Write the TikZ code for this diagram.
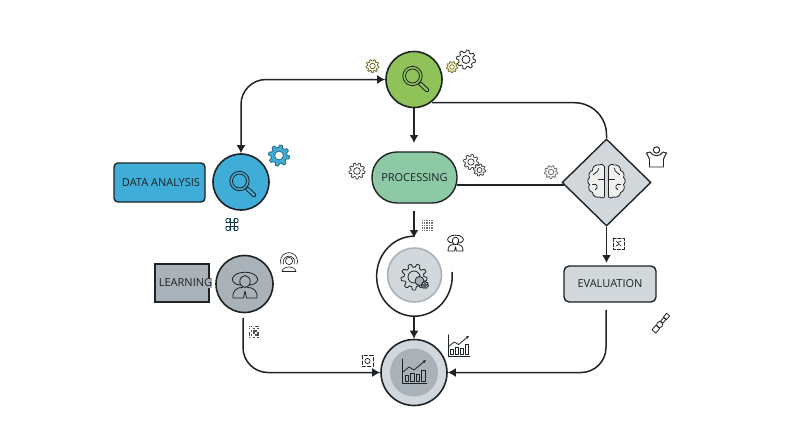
\documentclass[tikz,border=0pt]{standalone}
\usepackage{fontspec}
\setmainfont{Open Sans}
\usetikzlibrary{shapes.geometric,arrows.meta}
\definecolor{ink}{HTML}{1E2326}
\definecolor{cgreen}{HTML}{8FC35A}
\definecolor{cblue}{HTML}{3FADD8}
\definecolor{cmint}{HTML}{8DC9A4}
\definecolor{cgrey}{HTML}{A9B2B9}
\definecolor{clight}{HTML}{D2D7DB}
\definecolor{lobefill}{HTML}{EFF0EE}
\tikzset{
  conn/.style={draw=ink,line width=1.5pt,-{Latex[length=8pt,width=9pt]}},
  line/.style={draw=ink,line width=1.5pt},
  disc/.style={circle,draw=ink,line width=1.6pt,inner sep=0pt},
  boxlabel/.style={font=\fontsize{11}{13}\selectfont,text=ink,inner sep=0pt},
  icon/.style={draw=ink,line width=.8pt,line join=round,line cap=round},
  thin icon/.style={draw=ink!80,line width=.55pt,line cap=round}
}
\newcommand\gearicon[6]{%
  \draw[draw=#5,fill=#6,line width=.8pt,line join=round,shift={(#1,#2)}]
    plot[samples={12*#4+1},domain=0:360,variable=\t]
    ({#3*(0.76+0.24*min(1,max(0,.5+1.2*sin(#4*\t))))*cos(\t)},
     {#3*(0.76+0.24*min(1,max(0,.5+1.2*sin(#4*\t))))*sin(\t)}) -- cycle;
  \draw[draw=#5,fill=white,line width=.8pt] (#1,#2) circle ({#3*.42});
}
\newcommand\lensicon[3]{% lens centre, handle colour
  \begin{scope}[shift={(#1,#2)}]
    \draw[line width=4.4pt,draw=ink,line cap=round] (8,8) -- (14.5,14);
    \draw[line width=2.4pt,draw=#3,line cap=round] (8,8) -- (14.5,14);
    \draw[icon,fill=#3] (0,0) circle (9.7);
    \draw[icon] (0,0) circle (7);
  \end{scope}}
\newcommand\charticon[3]{% left, bottom, scale
  \begin{scope}[shift={(#1,#2)},scale=#3]
    \draw[icon] (0,-24) -- (0,0) -- (25,0);
    \foreach \a/\h in {3/6,8.5/8,14/7,19.5/11}
      \draw[icon] (\a,-2) rectangle ++(3.6,-\h);
    \draw[icon,-{Latex[length=3pt,width=3pt]}] (1,-11) -- (7,-16) -- (12,-13) -- (24,-23);
  \end{scope}}
\newcommand\personicon[3]{%
  \begin{scope}[shift={(#1,#2)},scale=#3]
    \draw[icon] (-4,0) .. controls (-12,0) and (-15,-6) .. (-11,-9)
      .. controls (-7,-14) and (7,-14) .. (11,-9)
      .. controls (15,-6) and (12,0) .. (4,0);
    \draw[icon] (0,-3.5) ellipse (5.2 and 6);
    \draw[icon] (-2.5,2.5) .. controls (-8,2) and (-13,6) .. (-12,13) -- (-1.5,13) -- (0,6) -- (1.5,13) -- (12,13)
      .. controls (13,6) and (8,2) .. (2.5,2.5);
  \end{scope}}
\begin{document}
\begin{tikzpicture}[x=1pt,y=-1pt]
\useasboundingbox (0,0) rectangle (800,437);
\fill[white] (0,0) rectangle (800,437);

% nodes
\node[disc,fill=cgreen,minimum size=56pt] (green) at (414,79.5) {};
\node[disc,fill=cblue,minimum size=56pt] (blue) at (241,182) {};
\node[draw=ink,line width=1.4pt,fill=cblue,rounded corners=4pt,minimum width=91pt,minimum height=39pt,inner sep=0pt] (dabox) at (159.5,182.5) {};
\node[boxlabel] (dalabel) at (161,183) {DATA ANALYSIS};
\node[draw=ink,line width=1.4pt,fill=cmint,rounded corners=25pt,minimum width=85pt,minimum height=51pt,inner sep=0pt,boxlabel] (proc) at (414.5,177.5) {PROCESSING};
\node[diamond,draw=ink,line width=1.4pt,fill=clight,minimum width=89pt,minimum height=87pt,inner sep=0pt] (brain) at (606.5,182.5) {};
\node[draw=ink,line width=1.4pt,fill=clight,rounded corners=5pt,minimum width=92pt,minimum height=36pt,inner sep=0pt,boxlabel] (eval) at (610,284) {EVALUATION};
\node[draw=ink,line width=1.2pt,fill=cgrey,minimum width=54pt,minimum height=38pt,inner sep=0pt] (lbox) at (182,283) {};
\node[disc,fill=cgrey,minimum size=57pt] (lcirc) at (244.5,284) {};
\node[boxlabel,fill=cgrey,inner xsep=0pt,inner ysep=1pt] (llabel) at (185.5,283) {LEARNING};
\node[circle,draw=cgrey,line width=1.6pt,fill=clight,minimum size=54pt,inner sep=0pt] (cog) at (414.5,275) {};
\node[disc,fill=clight,minimum size=66pt] (bot) at (414,372.5) {};
\node[circle,fill=cgrey,minimum size=48pt,inner sep=0pt] (botin) at (414,372.5) {};

% connector anchors
\coordinate (gj) at (432,102.7);
\coordinate (pin) at (414,143);
\coordinate (ein) at (606.5,263);
\coordinate (ringtop) at (414,238);
\coordinate (ringend) at (452,272);
\coordinate (ringbot) at (414,316);
\coordinate (pdown) at (414,211);
\coordinate (lout) at (243,318);
\coordinate (eout) at (606,310);
\coordinate (pright) at (457,185);
\coordinate (dleft) at (564,185);

% connectors
\draw[conn,{Latex[length=8pt,width=9pt]}-{Latex[length=8pt,width=9pt]},rounded corners=25pt] (blue.north) |- (green.west);
\draw[conn] (green.south) -- (pin);
\draw[line,rounded corners=32pt] (gj) -| (brain.north);
\draw[line] (pright) -- (dleft);
\draw[conn] (pdown) -- (ringtop);
\draw[line] (ringend) arc[start angle=-6,end angle=270,x radius=37.8pt,y radius=-40pt];
\draw[conn] (ringbot) -- (bot.north);
\draw[conn] (brain.south) -- (ein);
\draw[conn,rounded corners=25pt] (lout) |- (bot.west);
\draw[conn,rounded corners=25pt] (eout) |- (bot.east);

% main icons
\lensicon{412.5}{76}{cgreen}
\lensicon{239.5}{181}{cblue}
\personicon{245}{285}{1}
\gearicon{414}{277}{13}{9}{ink}{clight}
\draw[icon,fill=clight] (414,277) circle (6);
\draw[icon,fill=cgrey] (419.5,281) circle (4.5);
\gearicon{425}{285}{3.5}{7}{ink}{white}
\charticon{402}{383}{1}
\charticon{448}{356}{.88}
\begin{scope}[shift={(606.5,181.5)}]
  \draw[icon,fill=lobefill] (-2,-15) to[bend right=55] (-8,-16.5) to[bend right=55] (-14,-11)
    to[bend right=55] (-17,-4) to[bend right=55] (-17,3) to[bend right=55] (-14,11)
    to[bend right=55] (-7,15.5) to[bend right=45] (-2,15.5) -- cycle;
  \draw[icon,fill=lobefill] (2,-15) to[bend left=55] (8,-16.5) to[bend left=55] (14,-11)
    to[bend left=55] (17,-4) to[bend left=55] (17,3) to[bend left=55] (14,11)
    to[bend left=55] (7,15.5) to[bend left=45] (2,15.5) -- cycle;
  \draw[icon] (-2,-2) -- (-8,-2) (-14,3) .. controls (-9,1) and (-8,7) .. (-11,8)
    (-8,-13) .. controls (-8,-9) and (-12,-9) .. (-13,-7);
  \draw[icon] (2,-2) -- (8,-2) (14,3) .. controls (9,1) and (8,7) .. (11,8)
    (8,-13) .. controls (8,-9) and (12,-9) .. (13,-7);
\end{scope}

% small icons
\gearicon{372.5}{66}{6.5}{9}{olive!70!black}{white}
\gearicon{452}{67}{5.5}{9}{olive!85!black}{white}
\gearicon{466}{59.5}{9.5}{8}{ink}{white}
\gearicon{279}{155.5}{10.5}{8}{cblue!60!black}{cblue}
\gearicon{357}{171}{8}{9}{ink!85}{white}
\gearicon{471}{162}{7.5}{8}{ink!85}{white}
\gearicon{479.5}{170}{6}{8}{ink!85}{white}
\gearicon{551}{172}{6.5}{9}{ink!65}{white}

% command-key glyph
\begin{scope}[shift={(232,224.5)}]
  \draw[thin icon,draw=cblue!35!black,line width=.8pt] (-2,-6) -- (-2,6) (2,-6) -- (2,6) (-6,-2) -- (6,-2) (-6,2) -- (6,2);
  \foreach \sx/\sy in {-4/-4,4/-4,-4/4,4/4}
    \draw[thin icon,draw=cblue!35!black,line width=.8pt] (\sx,\sy) circle (2.2);
\end{scope}
% dotted grid
\foreach \i in {0,...,4} \foreach \j in {0,...,4}
  \fill[ink!65] ({421.5+2.4*\i},{220+2.4*\j}) rectangle ++(1.4,1.4);
% QR-like glyph below learning
\foreach \i/\j in {0/0,1/0,3/0,4/0,0/1,2/1,4/1,1/2,2/2,3/2,0/3,2/3,4/3,0/4,1/4,3/4,4/4,0/5,2/5,4/5}
  \fill[ink!80] ({248.5+2.2*\i},{325.5+2.2*\j}) rectangle ++(1.7,1.6);
% small person, right of ring
\personicon{455.5}{243}{.62}
% listening head
\begin{scope}[shift={(289,261)}]
  \draw[icon,line width=.65pt] (-5.5,3) arc[start angle=160,end angle=380,x radius=5.8,y radius=5.8];
  \draw[icon,line width=.65pt] (-8,3) arc[start angle=160,end angle=380,x radius=8.5,y radius=8.5];
  \draw[icon,line width=.65pt] (0,0) circle (3.6);
  \draw[icon,line width=.65pt] (-7,10.5) .. controls (-6,4.5) and (6,4.5) .. (7,10.5) -- cycle;
\end{scope}
% shirt figure
\begin{scope}[shift={(656.5,156)}]
  \draw[icon,line width=.95pt] (0,-6) circle (3.2);
  \draw[icon,line width=.95pt] (-10,-3) -- (-7,3) -- (-7,11) -- (7,11) -- (7,3) -- (10,-3) -- (6.5,-4) .. controls (3,1) and (-3,1) .. (-6.5,-4) -- cycle;
\end{scope}
% broken square
\begin{scope}[shift={(367.5,361)}]
  \draw[icon,line width=.7pt,dash pattern=on 3.5pt off 2pt] (-5.5,-5.5) rectangle (5.5,5.5);
  \draw[icon,line width=.7pt] (0,0) circle (2.6);
\end{scope}
% puzzle square
\begin{scope}[shift={(618.5,243.5)}]
  \draw[icon,line width=.7pt,dash pattern=on 3.5pt off 1.6pt] (-5.5,-5.5) rectangle (5.5,5.5);
  \draw[icon,line width=.7pt] (-2.5,-2.5) -- (2.5,2.5) (2.5,-2.5) -- (-1,-1) (-2.5,2.5) -- (0,1);
\end{scope}
% wrench chain
\begin{scope}[shift={(661,323)},rotate=50]
  \draw[icon,line width=.8pt] (-11,-2.5) rectangle (-5,2.5);
  \draw[icon,line width=.8pt] (-2,0) circle (3);
  \draw[icon,line width=.8pt] (1,-1.5) rectangle (6,1.5);
  \draw[icon,line width=.8pt] (6,-2) rectangle (11,2);
\end{scope}
\end{tikzpicture}
\end{document}
